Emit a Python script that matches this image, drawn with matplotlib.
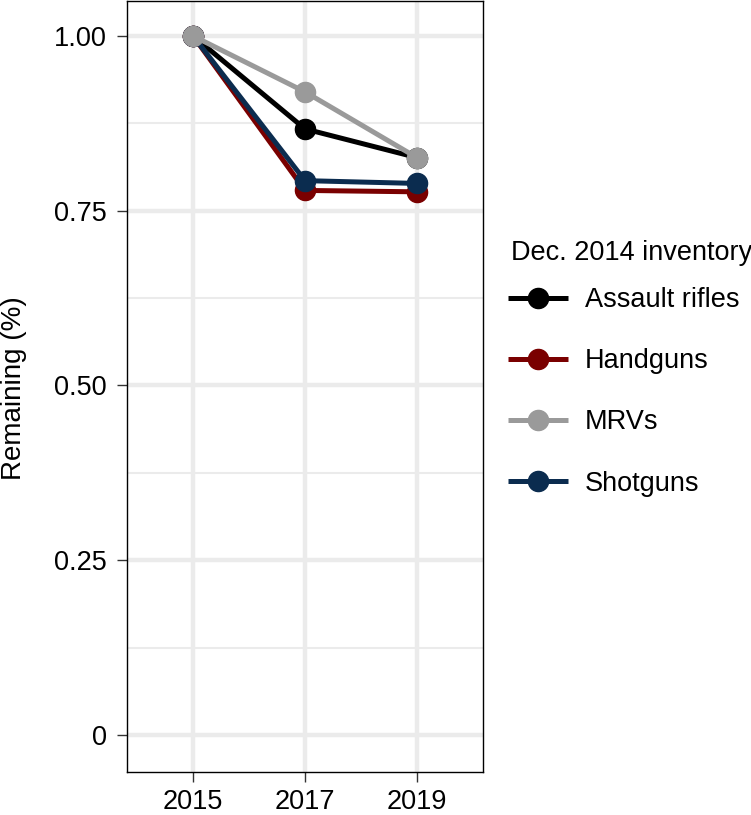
import matplotlib
matplotlib.use("Agg")
import matplotlib.pyplot as plt
from matplotlib.ticker import MultipleLocator

plt.rcParams['font.family'] = ['Liberation Sans', 'DejaVu Sans']

years = [2015, 2017, 2019]
assault_rifles = [1.00, 0.867, 0.826]
handguns = [1.00, 0.779, 0.777]
mrvs = [1.00, 0.920, 0.826]
shotguns = [1.00, 0.793, 0.789]

series = [
    ("Assault rifles", assault_rifles, "#000000", 3),
    ("Handguns", handguns, "#7a0000", 4),
    ("MRVs", mrvs, "#9a9a9a", 6),
    ("Shotguns", shotguns, "#0b2c4f", 5),
]

fig = plt.figure(figsize=(7.51, 8.15), dpi=100)
ax = fig.add_axes([127/751, 43/815, 356/751, 771/815])

handles = []
for name, vals, col, z in series:
    h, = ax.plot(years, vals, color=col, lw=3.6, marker='o', ms=14.5,
                 label=name, zorder=z, solid_capstyle='butt')
    handles.append(h)

ax.set_xlim(2013.82, 2020.18)
ax.set_ylim(-0.053, 1.05)
ax.set_xticks(years)
ax.set_yticks([0, 0.25, 0.5, 0.75, 1.0])
ax.set_yticklabels(["0", "0.25", "0.50", "0.75", "1.00"])
ax.yaxis.set_minor_locator(MultipleLocator(0.125))
ax.grid(True, which='major', color='#ebebeb', lw=3.2, zorder=0)
ax.grid(True, which='minor', axis='y', color='#ebebeb', lw=1.5, zorder=0)
ax.tick_params(axis='y', which='minor', length=0)
ax.tick_params(axis='both', which='major', labelsize=19.5, length=7.5, width=1,
               color='#333333')
ax.tick_params(axis='y', pad=7)
ax.tick_params(axis='x', pad=4.5)
for s in ax.spines.values():
    s.set_linewidth(1)
ax.set_axisbelow(True)

# y label placed in figure pixels
fig.text(14/751, 1 - 388/815, "Remaining (%)", fontsize=20, rotation=90,
         ha='center', va='center')

fig.text(511/751, 1 - 253/815, "Dec. 2014 inventory", fontsize=19.5,
         ha='left', va='center')
leg = fig.legend(handles=handles, loc='upper left',
                 bbox_to_anchor=(508/751, 1 - 287/815), frameon=False,
                 fontsize=19.5, handlelength=2.2,
                 labelspacing=1.3, handletextpad=0.65, borderpad=0,
                 borderaxespad=0)

fig.savefig("out.png", dpi=100)
